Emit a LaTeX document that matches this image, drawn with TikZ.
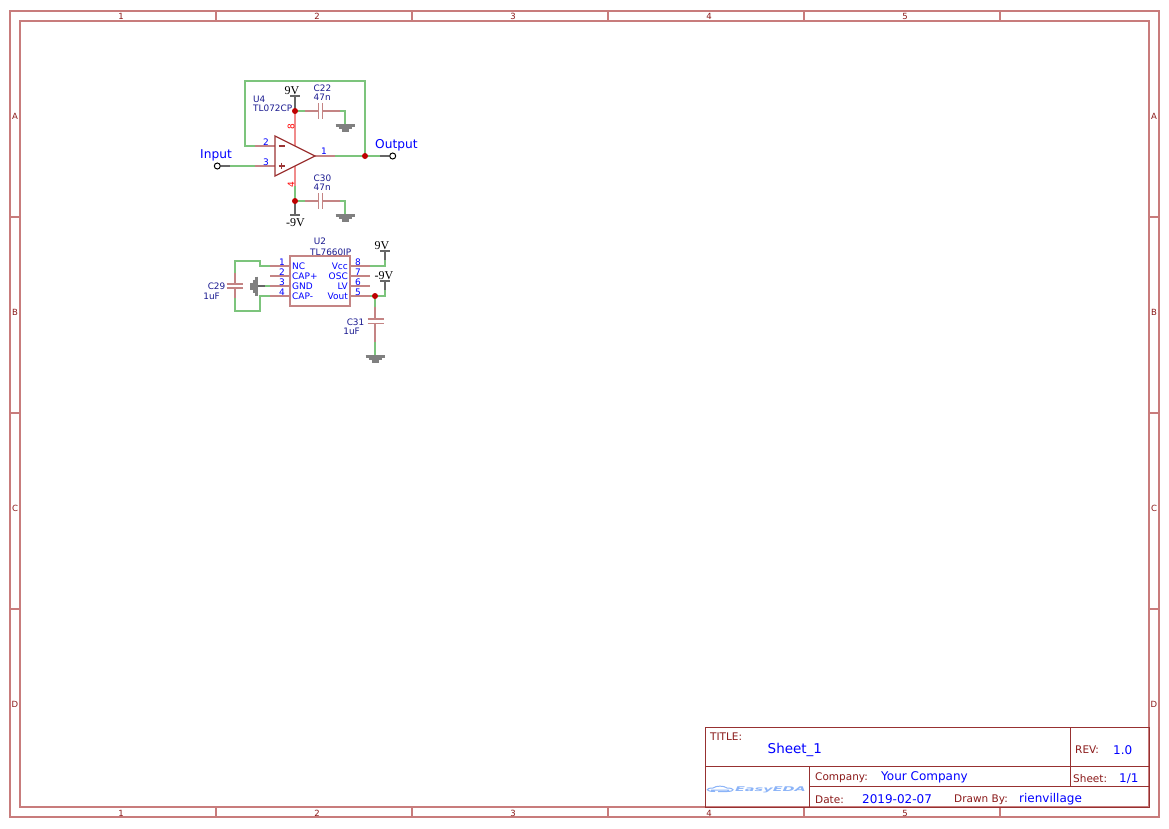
\documentclass[tikz,border=0pt]{standalone}
\usepackage{fontspec}
\setmainfont{DejaVu Sans}
\newfontfamily\flagfont{Liberation Serif}
\definecolor{framered}{HTML}{8B1A1A}
\definecolor{framepale}{HTML}{C87C7C}
\definecolor{pinpale}{HTML}{C48484}
\definecolor{partred}{HTML}{9C3434}
\definecolor{wiregreen}{HTML}{7CC47C}
\definecolor{pwrpink}{HTML}{F08C8C}
\definecolor{navy}{HTML}{1A1A90}
\definecolor{gndgray}{HTML}{808080}
\definecolor{logoblue}{HTML}{8CB4F8}
\tikzset{
    frame/.style={draw=framepale, line width=1.6pt},
    block/.style={draw=framered!90, line width=1pt},
    wire/.style={draw=wiregreen, line width=1.9pt},
    pin/.style={draw=pinpale, line width=1.9pt},
    part/.style={draw=partred, line width=1.3pt},
    power/.style={draw=black!60, line width=1.2pt},
    gndbar/.style={draw=gndgray, line width=2.1pt},
    pwrpin/.style={draw=pwrpink, line width=1.9pt},
    dot/.style={circle, fill=red!75!black, inner sep=0pt, minimum size=6pt},
    port/.style={circle, draw=black, fill=white, line width=1pt, inner sep=0pt, minimum size=6pt},
    ticktext/.style={font=\fontsize{8.5}{9}\selectfont, text=framered},
    partname/.style={font=\fontsize{8.9}{9}\selectfont, text=navy, inner sep=0pt},
    pinnum/.style={font=\fontsize{9}{9}\selectfont, text=blue, inner sep=0pt},
    pinname/.style={font=\fontsize{9}{9}\selectfont, text=blue, inner sep=0pt},
    netname/.style={font=\fontsize{12.2}{12}\selectfont, text=blue, inner sep=0pt},
    flagname/.style={font=\fontsize{12}{12}\flagfont, text=black, inner sep=0pt},
    redtext/.style={font=\fontsize{10.5}{11}\selectfont, text=framered, inner sep=0pt, anchor=west},
    bluetext/.style={font=\fontsize{12}{12}\selectfont, text=blue, inner sep=0pt, anchor=west},
}
\newcommand{\gndbars}[1]{
    \draw[gndbar] (#1)+(-9.5,0.5) -- +(9.5,0.5);
    \draw[gndbar] (#1)+(-6.5,3) -- +(6.5,3);
    \draw[gndbar] (#1)+(-3.5,5.5) -- +(3.5,5.5);
}
\begin{document}
\begin{tikzpicture}[x=1pt,y=-1pt]
    \useasboundingbox (0,0) rectangle (1169,828);
    \fill[white] (0,0) rectangle (1169,828);

    % frame
    \draw[frame] (10,11) rectangle (1159,817);
    \draw[frame] (20,21) rectangle (1149,807);
    \foreach \x/\n in {216/1,412/2,608/3,804/4,1000/5} {
        \draw[frame] (\x,11) -- (\x,21);
        \draw[frame] (\x,807) -- (\x,817);
        \node[ticktext] (top\n) at (\x-95,16.5) {\n};
        \node[ticktext] (bot\n) at (\x-95,813) {\n};
    }
    \foreach \y/\n in {217/A,413/B,609/C} {
        \draw[frame] (10,\y) -- (20,\y);
        \draw[frame] (1149,\y) -- (1159,\y);
    }
    \foreach \y/\n in {116/A,312/B,508/C,704/D} {
        \node[ticktext] (left\n) at (15,\y) {\n};
        \node[ticktext] (right\n) at (1154,\y) {\n};
    }

    % title block
    \draw[block] (705,727.5) rectangle (1149,807);
    \draw[block] (705,766.7) -- (1149,766.7);
    \draw[block] (1070,727.5) -- (1070,786.7);
    \draw[block] (809,766.7) -- (809,807);
    \draw[block] (809,786.7) -- (1149,786.7);
    \node[redtext] (titlelabel) at (710,737) {TITLE:};
    \node[bluetext, font=\fontsize{13.5}{14}\selectfont] (title) at (767.5,749.5) {Sheet\_1};
    \node[redtext] (revlabel) at (1075,750) {REV:};
    \node[bluetext] (rev) at (1113,750) {1.0};
    \node[redtext] (companylabel) at (815,777.5) {Company:};
    \node[bluetext] (company) at (881,777.5) {Your Company};
    \node[redtext] (sheetlabel) at (1073,779) {Sheet:};
    \node[bluetext] (sheet) at (1119,779) {1/1};
    \node[redtext] (datelabel) at (815,799.5) {Date:};
    \node[bluetext] (date) at (862,799) {2019-02-07};
    \node[redtext] (drawnlabel) at (954,799.5) {Drawn By:};
    \node[bluetext] (drawn) at (1019,799) {rienvillage};
    % logo
    \node[inner sep=0pt, text=logoblue, font=\fontsize{6.5}{7}\bfseries\itshape\selectfont, xscale=2.23] (logo) at (770.5,789.5) {EasyEDA};
    \draw[logoblue, line width=1pt] (715,791.5) .. controls (705,791.5) and (705,788) .. (713,788)
        .. controls (716,785.5) and (724,785.5) .. (727,788) .. controls (735,788) and (735,791.5) .. (727,791.5) -- (718,791.5)
        (711,790) -- (729,790);

    % U4
    \coordinate (p2) at (255,146);
    \coordinate (p3) at (255,166);
    \coordinate (p1) at (335,156);
    \coordinate (p8) at (295,113);
    \coordinate (p4) at (295,186);
    \draw[pin] (p2) -- (275,146);
    \draw[pin] (p3) -- (275,166);
    \draw[pin] (315,156) -- (p1);
    \draw[pwrpin] (295,146) -- (p8);
    \draw[pwrpin] (295,166) -- (p4);
    \draw[part] (275,136) -- (315,156) -- (275,176) -- cycle;
    \draw[part] (278.5,146) -- (285,146);
    \draw[part] (278.5,166) -- (285,166) (281.7,162.7) -- (281.7,169.3);
    \node[pinnum] (n2) at (266,142) {2};
    \node[pinnum] (n3) at (266,162) {3};
    \node[pinnum] (n1) at (324,151.5) {1};
    \node[pinnum, text=red, rotate=90] (n8) at (291,127) {8};
    \node[pinnum, text=red, rotate=90] (n4) at (291,185) {4};
    \node[partname, anchor=west] (u4) at (253,99.5) {U4};
    \node[partname, anchor=west] (u4val) at (253,108) {TL072CP};

    % nets of U4
    \coordinate (jout) at (365,156);
    \coordinate (jvcc) at (295,111);
    \coordinate (jvee) at (295,201);
    \coordinate (instub) at (230,166);
    \coordinate (outstub) at (380,156);
    \node[port] (input) at (217.3,166) {};
    \node[port] (output) at (392.7,156) {};
    \node[netname, anchor=west] (inlabel) at (200,155) {Input};
    \node[netname, anchor=west] (outlabel) at (375,145) {Output};
    \draw[wire] (p2) -- (245,146) -- (245,81) -- (365,81) -- (jout);
    \draw[power] (input) -- (instub);
    \draw[wire] (instub) -- (p3);
    \draw[wire] (p1) -- (outstub);
    \draw[power] (outstub) -- (output);
    \draw[wire] (p4) -- (jvee);

    % supply flags of U4
    \coordinate (vcc1) at (295,96);
    \coordinate (vee1) at (295,215);
    \draw[power] (jvcc) -- (vcc1);
    \draw[power] (jvee) -- (vee1);
    \draw[power] (290,96) -- (300,96);
    \draw[power] (290,215) -- (300,215);
    \node[flagname] (vcc1label) at (292,90.5) {9V};
    \node[flagname] (vee1label) at (295.5,223) {-9V};

    % C22
    \coordinate (c22a) at (305,111);
    \coordinate (c22b) at (340,111);
    \coordinate (gnd1) at (345,125);
    \draw[wire] (jvcc) -- (c22a);
    \draw[pin] (c22a) -- (318.5,111) (322.5,111) -- (c22b);
    \draw[pin] (318.5,103) -- (318.5,119) (322.5,103) -- (322.5,119);
    \draw[wire] (c22b) -| (gnd1);
    \gndbars{gnd1}
    \node[partname, anchor=west] (c22) at (313.5,88.5) {C22};
    \node[partname, anchor=west] (c22val) at (313.5,97.5) {47n};

    % C30
    \coordinate (c30a) at (305,201);
    \coordinate (c30b) at (340,201);
    \coordinate (gnd2) at (345,215);
    \draw[wire] (jvee) -- (c30a);
    \draw[pin] (c30a) -- (318.5,201) (322.5,201) -- (c30b);
    \draw[pin] (318.5,193) -- (318.5,209) (322.5,193) -- (322.5,209);
    \draw[wire] (c30b) -| (gnd2);
    \gndbars{gnd2}
    \node[partname, anchor=west] (c30) at (313.5,178.5) {C30};
    \node[partname, anchor=west] (c30val) at (313.5,187.5) {47n};

    % U2
    \draw[pin] (290,256) rectangle (350,306);
    \foreach \y/\n/\l/\m/\r/\t in {266/1/NC/8/Vcc/a, 276/2/CAP+/7/OSC/b, 286/3/GND/6/LV/c, 296/4/CAP-/5/Vout/d} {
        \coordinate (ul\t) at (270,\y);
        \coordinate (ur\t) at (370,\y);
        \draw[pin] (ul\t) -- (290,\y);
        \draw[pin] (350,\y) -- (ur\t);
        \node[pinnum] (unl\n) at (282,\y-3.5) {\n};
        \node[pinnum] (unr\m) at (358,\y-3.5) {\m};
        \node[pinname, anchor=west] (uln\n) at (292,\y+0.3) {\l};
        \node[pinname, anchor=east] (urn\m) at (348,\y+0.3) {\r};
    }
    \node[partname] (u2) at (320,241) {U2};
    \node[partname, anchor=west] (u2val) at (310,252) {TL7660IP};

    % C29
    \coordinate (c29a) at (235,273);
    \coordinate (c29b) at (235,298);
    \draw[pin] (c29a) -- (235,284) (235,288) -- (c29b);
    \draw[pin] (226.5,284) -- (243,284) (226.5,288) -- (243,288);
    \draw[wire] (ula) -- (260,266) -- (260,261) -- (235,261) -- (c29a);
    \draw[wire] (uld) -- (260,296) -- (260,311) -- (235,311) -- (c29b);
    \node[partname, anchor=east] (c29) at (225.5,286.5) {C29};
    \node[partname, anchor=east] (c29val) at (220,296) {1uF};

    % ground of U2
    \coordinate (gnd3) at (257,286);
    \coordinate (gndstub) at (265,286);
    \draw[wire] (ulc) -- (gndstub);
    \draw[power] (gndstub) -- (gnd3);
    \draw[gndbar] (gnd3)+(-0.5,-9.5) -- +(-0.5,9.5);
    \draw[gndbar] (gnd3)+(-3,-6.5) -- +(-3,6.5);
    \draw[gndbar] (gnd3)+(-5.5,-3.5) -- +(-5.5,3.5);

    % supply of U2
    \coordinate (vcc2) at (385,251);
    \coordinate (vee2) at (385,281);
    \coordinate (jc31) at (375,296);
    \draw[wire] (ura) -| (385,260);
    \draw[power] (385,260) -- (vcc2);
    \draw[power] (380,251) -- (390,251);
    \node[flagname] (vcc2label) at (382,245.5) {9V};
    \draw[wire] (urd) -- (jc31);
    \draw[wire] (jc31) -| (385,290);
    \draw[power] (385,290) -- (vee2);
    \draw[power] (380,281) -- (390,281);
    \node[flagname] (vee2label) at (384,275.5) {-9V};

    % C31
    \coordinate (c31a) at (375,307);
    \coordinate (c31b) at (375,342);
    \coordinate (gnd4) at (375,356);
    \draw[wire] (jc31) -- (c31a);
    \draw[pin] (c31a) -- (375,319) (375,323.5) -- (c31b);
    \draw[pin] (367.5,319) -- (383.5,319) (367.5,323.5) -- (383.5,323.5);
    \draw[wire] (c31b) -- (gnd4);
    \gndbars{gnd4}
    \node[partname, anchor=east] (c31) at (364.5,322.5) {C31};
    \node[partname, anchor=east] (c31val) at (360,331) {1uF};

    % junctions
    \node[dot] (joutdot) at (jout) {};
    \node[dot] (jvccdot) at (jvcc) {};
    \node[dot] (jveedot) at (jvee) {};
    \node[dot] (jc31dot) at (jc31) {};
\end{tikzpicture}
\end{document}
